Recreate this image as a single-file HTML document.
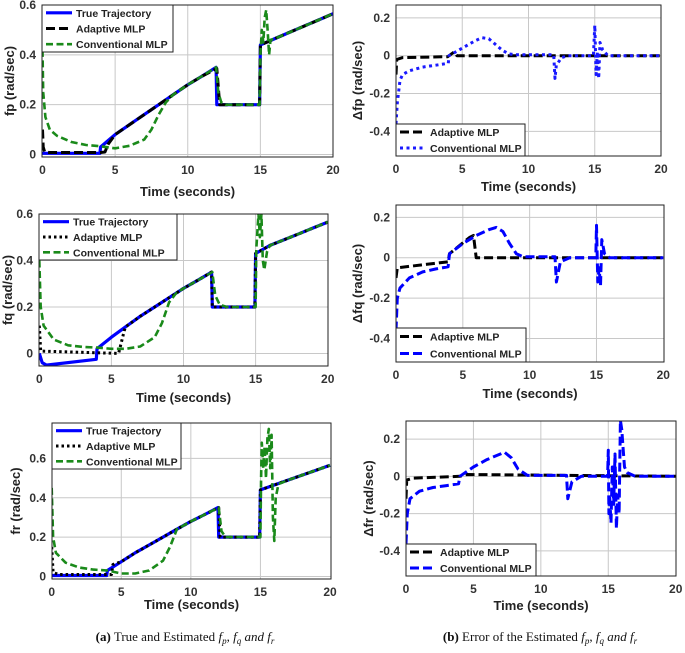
<!DOCTYPE html>
<html><head><meta charset="utf-8"><style>
body{margin:0;background:#fff;}
svg{display:block;font-family:"Liberation Sans",sans-serif;}
.tk{font-size:12px;font-weight:bold;fill:#333;}
.lbl{font-size:13px;font-weight:bold;fill:#222;}
.lg{font-size:10.5px;font-weight:bold;fill:#222;}
.cap{font-family:"Liberation Serif",serif;font-size:13px;fill:#111;}
</style></head><body>
<svg id="fig" width="685" height="653" viewBox="0 0 685 653"></svg>
<script>
// ---- data: fp ----
const fpTrueT=[0,3.95,4.0,5,6,7,8,9,10,11,11.95,12.0,14.95,15.0,16,17,18,19,20];
const fpTrueV=[0.005,0.005,0.03,0.08,0.12,0.16,0.2,0.24,0.28,0.315,0.35,0.2,0.2,0.44,0.465,0.49,0.515,0.54,0.565];
const fpAdT=[0,0.05,0.15,0.5,4,4.3,4.5,5,6,7,8,9,10,11,12,12.2,14.95,15.0,16,17,18,19,20];
const fpAdV=[0.1,0.03,0.01,0.008,0.008,0.01,0.04,0.08,0.12,0.16,0.2,0.24,0.28,0.315,0.345,0.2,0.2,0.44,0.465,0.49,0.515,0.54,0.565];
const fpCvT=[0,0.05,0.2,0.5,1,2,3,4,5,6,7,7.5,8,8.5,9,10,11,11.95,12.1,12.3,12.6,13,14.95,15.0,15.1,15.2,15.3,15.4,15.5,15.6,15.7,16,17,18,19,20];
const fpCvV=[0.42,0.25,0.15,0.1,0.075,0.05,0.038,0.033,0.025,0.035,0.06,0.1,0.16,0.21,0.24,0.28,0.315,0.35,0.25,0.21,0.2,0.2,0.2,0.4,0.5,0.45,0.55,0.58,0.5,0.4,0.46,0.465,0.49,0.515,0.54,0.565];
// ---- data: fq ----
const fqTrueT=[0,0.2,0.5,3.95,4.0,5,6,7,8,9,10,11,11.95,12.0,14.95,15.0,16,17,18,19,20];
const fqTrueV=[0,-0.04,-0.05,-0.025,0.02,0.07,0.115,0.16,0.2,0.24,0.28,0.315,0.35,0.2,0.2,0.43,0.465,0.49,0.515,0.54,0.565];
const fqAdT=[0,0.1,5.5,5.9,6,7,8,9,10,11,11.95,12.0,14.95,15.0,16,17,18,19,20];
const fqAdV=[0.12,0.01,0.0,0.1,0.115,0.16,0.2,0.24,0.28,0.315,0.35,0.2,0.2,0.43,0.465,0.49,0.515,0.54,0.565];
const fqCvT=[0,0.1,0.3,1,2,3,4,5,6,7,8,8.5,9,9.5,10,11,12,12.2,12.5,13,15,15.05,15.2,15.3,15.4,15.5,15.6,15.8,16,17,18,19,20];
const fqCvV=[0.4,0.2,0.12,0.06,0.035,0.028,0.025,0.02,0.02,0.03,0.07,0.13,0.22,0.26,0.28,0.315,0.35,0.25,0.21,0.2,0.2,0.45,0.6,0.5,0.6,0.4,0.36,0.44,0.465,0.49,0.515,0.54,0.565];
// ---- data: fr ----
const frTrueT=[0,3.95,4.0,5,6,7,8,9,10,11,11.95,12.0,14.95,15.0,16,17,18,19,20];
const frTrueV=[0.005,0.005,0.03,0.075,0.12,0.16,0.2,0.24,0.28,0.315,0.35,0.2,0.2,0.44,0.465,0.49,0.515,0.54,0.565];
const frAdT=[0,0.1,0.5,4.0,4.3,4.4,5,6,7,8,9,10,11,12,12.1,14.95,15.0,16,17,18,19,20];
const frAdV=[0.15,0.02,0.01,0.01,0.01,0.06,0.075,0.12,0.16,0.2,0.24,0.28,0.315,0.35,0.2,0.2,0.44,0.465,0.49,0.515,0.54,0.565];
const frCvT=[0,0.1,0.3,1,2,3,4,5,6,7,8,8.5,9,10,11,12,12.2,12.5,15,15.05,15.1,15.2,15.3,15.4,15.5,15.6,15.7,15.8,15.9,16,16.1,16.3,17,18,19,20];
const frCvV=[0.45,0.2,0.12,0.07,0.045,0.035,0.03,0.015,0.015,0.03,0.08,0.15,0.24,0.28,0.315,0.35,0.23,0.2,0.2,0.5,0.68,0.55,0.66,0.5,0.7,0.75,0.55,0.72,0.3,0.18,0.4,0.47,0.49,0.515,0.54,0.565];
// ---- data: errors ----
const efpAdT=[0,0.05,0.5,3.9,4.2,4.4,4.6,20];
const efpAdV=[-0.1,-0.02,-0.01,-0.005,0.01,0.02,0,0];
const efpCvT=[0,0.1,0.3,0.5,1,2,3,3.95,4.0,5,6,6.5,7,7.5,8,8.5,9,10,11.9,12,12.1,12.5,13,14.9,15,15.1,15.2,15.3,15.4,15.6,16,20];
const efpCvV=[-0.36,-0.25,-0.13,-0.1,-0.08,-0.06,-0.05,-0.04,0,0.04,0.08,0.095,0.09,0.06,0.03,0.01,0.005,0.005,0.005,-0.12,-0.05,-0.01,0,0,0.16,-0.1,0.02,-0.12,0.07,0.03,0,0];
const efqAdT=[0,0.1,3.9,4,5.5,5.8,6,20];
const efqAdV=[-0.1,-0.05,-0.02,0.02,0.1,0.11,0,0];
const efqCvT=[0,0.1,0.3,1,2,3,3.9,4,5,6,7,7.5,8,8.5,9,9.5,11.9,12,12.3,13,14.95,15,15.1,15.2,15.3,15.4,15.6,16,20];
const efqCvV=[-0.36,-0.2,-0.15,-0.1,-0.07,-0.055,-0.045,0.02,0.07,0.11,0.14,0.15,0.13,0.07,0.02,0.005,0.005,-0.12,-0.02,0,0,0.16,-0.12,-0.05,-0.14,0.09,0.02,0,0];
const efrAdT=[0,0.05,0.5,4,4.5,20];
const efrAdV=[-0.12,-0.02,-0.01,0,0.01,0];
const efrCvT=[0,0.1,0.3,1,2,3,3.9,4,5,6,7,7.3,7.8,8.3,9,11.9,12,12.3,13,14.95,15,15.05,15.1,15.2,15.3,15.4,15.5,15.6,15.7,15.8,15.9,16.0,16.1,16.2,16.4,17,20];
const efrCvV=[-0.36,-0.2,-0.12,-0.08,-0.06,-0.05,-0.04,0,0.05,0.09,0.12,0.13,0.1,0.04,0.005,0.005,-0.12,-0.03,0,0,0.14,-0.2,-0.1,-0.25,0.05,-0.15,0.12,-0.28,-0.1,-0.2,0.3,0.25,0.15,0.05,0.02,0,0];
const xTicks=[0,5,10,15,20];

const NS='http://www.w3.org/2000/svg';
const svg=document.getElementById('fig');
function mk(tag,attrs,parent){const e=document.createElementNS(NS,tag);for(const k in attrs)e.setAttribute(k,attrs[k]);(parent||svg).appendChild(e);return e;}
const STY={
 blueSolid:{stroke:'#0000ff',w:3.2,d:''},
 blackDash:{stroke:'#000',w:3,d:'9,4'},
 blackDot:{stroke:'#000',w:3,d:'2.5,3'},
 greenDash:{stroke:'#1a8a1a',w:2.6,d:'7,3.5'},
 blueDot:{stroke:'#1a1aff',w:3,d:'3,3.5'},
 blueDash:{stroke:'#0000ff',w:3,d:'9,4'}
};
function plot(cfg){
 const g=mk('g',{});
 
 
 const [x0,x1,y0,y1]=cfg.box;
 const sx=t=>cfg.ax0+(t-0)/20*(cfg.ax20-cfg.ax0);
 const sy=v=>y1-(v-cfg.ylim[0])/(cfg.ylim[1]-cfg.ylim[0])*(y1-y0);
 mk('rect',{x:x0,y:y0,width:x1-x0,height:y1-y0,fill:'#fff'},g);
 const grid=mk('g',{},g);
 
 
 xTicks.forEach(t=>{const X=sx(t);
  if(t>0&&t<20)mk('line',{x1:X,x2:X,y1:y0,y2:y1,stroke:'#c8c8c8','stroke-width':1},grid);
  const tx=mk('text',{x:X,y:y1+17,'text-anchor':'middle',class:'tk'},g);tx.textContent=t;
  
  
 });
 cfg.yTicks.forEach(v=>{const Y=sy(v);
  mk('line',{x1:x0,x2:x1,y1:Y,y2:Y,stroke:'#c8c8c8','stroke-width':1},grid);
  const tx=mk('text',{x:x0-6,y:Y+4,'text-anchor':'end',class:'tk'},g);tx.textContent=(v===0?'0':v.toFixed(1));
  
  
 });
 const clip='c'+cfg.name;
 const cp=mk('clipPath',{id:clip},g);mk('rect',{x:x0,y:y0,width:x1-x0,height:y1-y0},cp);
 const lines=mk('g',{'clip-path':'url(#'+clip+')'},g);
 cfg.series.forEach(s=>{
  const st=STY[s.style];
  const pts=s.t.map((t,i)=>sx(t).toFixed(1)+','+sy(s.v[i]).toFixed(1)).join(' ');
  const p=mk('polyline',{points:pts,fill:'none',stroke:st.stroke,'stroke-width':st.w,'stroke-dasharray':st.d,'stroke-linejoin':'round'},lines);
  
  
 });
 mk('rect',{x:x0,y:y0,width:x1-x0,height:y1-y0,fill:'none',stroke:'#222','stroke-width':1},g);
 const [lx0,lx1,ly0,ly1]=cfg.leg;
 const lg=mk('g',{},g);
 
 
 mk('rect',{x:lx0,y:ly0,width:lx1-lx0,height:ly1-ly0,fill:'#fff',stroke:'#222','stroke-width':1},lg);
 const n=cfg.series.length, step=(ly1-ly0)/n;
 cfg.series.forEach((s,i)=>{
  const st=STY[s.style];const Y=ly0+step*(i+0.5);
  const e=mk('g',{},lg);
  
  
  mk('line',{x1:lx0+4,x2:lx0+30,y1:Y,y2:Y,stroke:st.stroke,'stroke-width':st.w,'stroke-dasharray':st.d},e);
  const tx=mk('text',{x:lx0+34,y:Y+4,class:'lg'},e);tx.textContent=s.label;
 });
 const xl=mk('text',{x:(x0+x1)/2,y:cfg.xlY,'text-anchor':'middle',class:'lbl'},g);xl.textContent='Time (seconds)';
 
 
 const yx=cfg.ylX, yy=(y0+y1)/2;
 const yl=mk('text',{x:yx,y:yy,'text-anchor':'middle',class:'lbl',transform:'rotate(-90 '+yx+' '+yy+')'},g);yl.textContent=cfg.ylabel;
 
 
}
const TT='True Trajectory',AM='Adaptive MLP',CM='Conventional MLP';
plot({name:'fp-chart',box:[42,333,5,157],ax0:42.5,ax20:333,ylim:[-0.01,0.6],yTicks:[0,0.2,0.4,0.6],leg:[42,173,5,52],xlY:196,ylX:14,ylabel:'fp (rad/sec)',
 series:[{id:'fp-true',style:'blueSolid',t:fpTrueT,v:fpTrueV,label:TT},{id:'fp-adaptive',style:'blackDash',t:fpAdT,v:fpAdV,label:AM},{id:'fp-conventional',style:'greenDash',t:fpCvT,v:fpCvV,label:CM}]});
plot({name:'fp-error-chart',box:[396,661,5,156],ax0:396,ax20:661,ylim:[-0.53,0.268],yTicks:[-0.4,-0.2,0,0.2],leg:[396,525,124,156],xlY:191,ylX:362,ylabel:'\u0394fp (rad/sec)',
 series:[{id:'fp-error-adaptive',style:'blackDash',t:efpAdT,v:efpAdV,label:AM},{id:'fp-error-conventional',style:'blueDot',t:efpCvT,v:efpCvV,label:CM}]});
plot({name:'fq-chart',box:[39,328,214,366],ax0:39.3,ax20:327.7,ylim:[-0.054,0.6],yTicks:[0,0.2,0.4,0.6],leg:[39,177,214,260],xlY:402,ylX:12,ylabel:'fq (rad/sec)',
 series:[{id:'fq-true',style:'blueSolid',t:fqTrueT,v:fqTrueV,label:TT},{id:'fq-adaptive',style:'blackDot',t:fqAdT,v:fqAdV,label:AM},{id:'fq-conventional',style:'greenDash',t:fqCvT,v:fqCvV,label:CM}]});
plot({name:'fq-error-chart',box:[396,664,205,362],ax0:396,ax20:663.3,ylim:[-0.516,0.261],yTicks:[-0.4,-0.2,0,0.2],leg:[396,526,328,362],xlY:398,ylX:362,ylabel:'\u0394fq (rad/sec)',
 series:[{id:'fq-error-adaptive',style:'blackDash',t:efqAdT,v:efqAdV,label:AM},{id:'fq-error-conventional',style:'blueDash',t:efqCvT,v:efqCvV,label:CM}]});
plot({name:'fr-chart',box:[52,331,423,579],ax0:51.7,ax20:330,ylim:[-0.013,0.78],yTicks:[0,0.2,0.4,0.6],leg:[52,181,423,469],xlY:609,ylX:20,ylabel:'fr (rad/sec)',
 series:[{id:'fr-true',style:'blueSolid',t:frTrueT,v:frTrueV,label:TT},{id:'fr-adaptive',style:'blackDot',t:frAdT,v:frAdV,label:AM},{id:'fr-conventional',style:'greenDash',t:frCvT,v:frCvV,label:CM}]});
plot({name:'fr-error-chart',box:[406,676,421,576],ax0:406,ax20:675.7,ylim:[-0.535,0.297],yTicks:[-0.4,-0.2,0,0.2],leg:[406,536,544,576],xlY:610,ylX:373,ylabel:'\u0394fr (rad/sec)',
 series:[{id:'fr-error-adaptive',style:'blackDash',t:efrAdT,v:efrAdV,label:AM},{id:'fr-error-conventional',style:'blueDash',t:efrCvT,v:efrCvV,label:CM}]});
</script>
<svg style="position:absolute;left:0;top:0" width="685" height="653">
<text class="cap" x="185" y="641" text-anchor="middle"><tspan font-weight="bold">(a)</tspan> True and Estimated <tspan font-style="italic">f</tspan><tspan font-size="9" dy="3" font-style="italic">p</tspan><tspan dy="-3">, </tspan><tspan font-style="italic">f</tspan><tspan font-size="9" dy="3" font-style="italic">q</tspan><tspan dy="-3" font-style="italic"> and f</tspan><tspan font-size="9" dy="3" font-style="italic">r</tspan></text>
<text class="cap" x="540" y="641" text-anchor="middle"><tspan font-weight="bold">(b)</tspan> Error of the  Estimated <tspan font-style="italic">f</tspan><tspan font-size="9" dy="3" font-style="italic">p</tspan><tspan dy="-3">, </tspan><tspan font-style="italic">f</tspan><tspan font-size="9" dy="3" font-style="italic">q</tspan><tspan dy="-3" font-style="italic"> and f</tspan><tspan font-size="9" dy="3" font-style="italic">r</tspan></text>
</svg>
</body></html>
